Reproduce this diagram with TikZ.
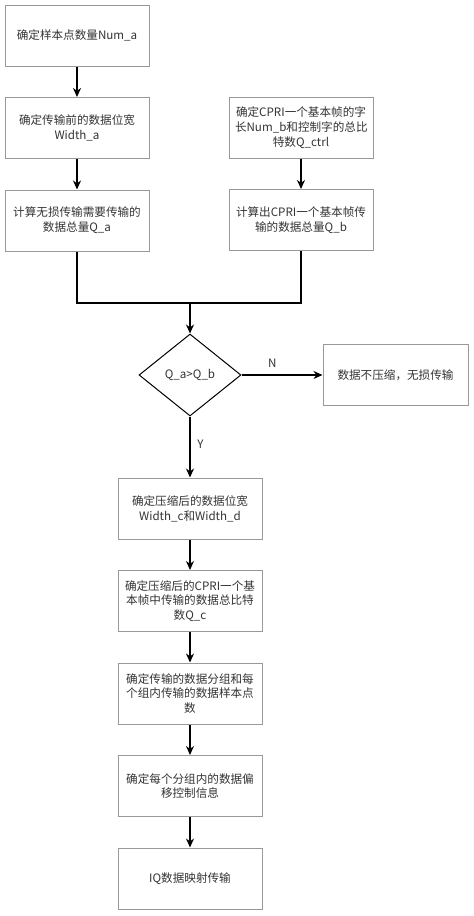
\documentclass[tikz,border=0pt]{standalone}
\usepackage{fontspec}
\setmainfont{Noto Sans CJK SC}
\usepackage{tikz}
\usetikzlibrary{arrows.meta,shapes.geometric,calc,positioning}
\tikzstyle{box}   =[rectangle, draw=black!40, line width=0.5pt,
                    minimum width=72pt, minimum height=30.5pt,
                    text width=66pt, align=center, inner sep=1pt,
                    text=black!80, font=\fontsize{5.8}{7.4}\selectfont]
\tikzstyle{test}  =[diamond, draw=black, line width=0.5pt, aspect=1.25,
                    minimum width=51pt, minimum height=41pt, inner sep=0pt,
                    text=black!80, font=\fontsize{5.8}{7.4}\selectfont]
\tikzstyle{arr}   =[-{Stealth[length=4.5pt,width=4pt]}, line width=0.8pt]
\tikzstyle{tag}   =[text=black!80, font=\fontsize{5.8}{7.4}\selectfont]

\begin{document}
\begin{tikzpicture}[x=0.5pt, y=0.5pt, node distance=46.25pt, on grid]
                \useasboundingbox (0,0) rectangle (474,-916);
                \node[box] (num) at (77,-35.5) {确定样本点数量Num\_a};
                \node[box] (wa) [below= of num] {确定传输前的数据位宽\\Width\_a};
                \node[box] (qa) [below= of wa] {计算无损传输需要传输的\\数据总量Q\_a};
                \node[box] (cpri) at (301,-127.5) {确定CPRI一个基本帧的字\\长Num\_b和控制字的总比\\特数Q\_ctrl};
                \node[box] (qb) [below= of cpri] {计算出CPRI一个基本帧传\\输的数据总量Q\_b};
                \coordinate (join) at (190,-303);
                \node[test] (cmp) at (190,-375) {Q\_a>Q\_b};
                \node[box, minimum width=72.5pt] (keep) at (395.5,-375) {数据不压缩，无损传输};
                \node[box] (wc) at (190,-508.5) {确定压缩后的数据位宽\\Width\_c和Width\_d};
                \node[box] (qc) [below= of wc] {确定压缩后的CPRI一个基\\本帧中传输的数据总比特\\数Q\_c};
                \node[box] (grp) [below= of qc] {确定传输的数据分组和每\\个组内传输的数据样本点\\数};
                \node[box] (ofs) [below= of grp] {确定每个分组内的数据偏\\移控制信息};
                \node[box] (iq) [below= of ofs] {IQ数据映射传输};

                \draw[arr] (num) to (wa);
                \draw[arr] (wa) to (qa);
                \draw[arr] (cpri) to (qb);
                \draw[line width=0.8pt] (qa.south) |- (join) -| (qb.south);
                \draw[arr] (join) to (cmp.north);
                \draw[arr] (cmp.east) -- node[tag, above, pos=0.38] {N} (keep.west);
                \draw[arr] (cmp.south) -- node[tag, right, pos=0.45] {Y} (wc.north);
                \draw[arr] (wc) to (qc);
                \draw[arr] (qc) to (grp);
                \draw[arr] (grp) to (ofs);
                \draw[arr] (ofs) to (iq);

        \end{tikzpicture}
\end{document}
